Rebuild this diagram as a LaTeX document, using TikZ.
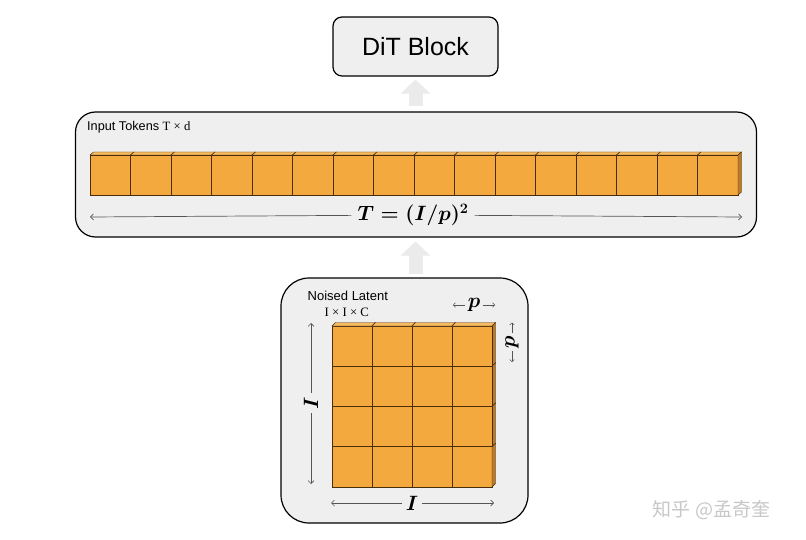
\documentclass[tikz,border=0pt]{standalone}
\usepackage{fontspec}
\setmainfont{Liberation Sans}
\newfontfamily\serifnum{Liberation Serif}
\newfontfamily\cjk{Noto Sans CJK SC}
\usetikzlibrary{arrows.meta}
\definecolor{boxfill}{HTML}{F0EFF0}
\definecolor{fatgray}{HTML}{EBEBEB}
\definecolor{orng}{HTML}{F4A93E}
\definecolor{orngtop}{HTML}{F7B95E}
\definecolor{orngside}{HTML}{B97A2A}
\definecolor{edgec}{HTML}{4A2E0A}
\definecolor{linegray}{HTML}{555555}
\definecolor{wmgray}{HTML}{C8C8C8}
\begin{document}
\begin{tikzpicture}[x=1pt,y=-1pt,
  panel/.style={draw=black, fill=boxfill, line width=1.2pt, inner sep=0pt},
  fatarrow/.style={draw=fatgray, line width=14pt, -{Triangle[length=14pt,width=29pt]}},
  dimline/.style={draw=linegray, line width=0.7pt, -{Straight Barb[length=3pt,width=6pt]}},
  smallarr/.style={draw=linegray, line width=0.5pt, -{Straight Barb[length=2.2pt,width=4.5pt]}},
  mathlbl/.style={font=\boldmath\fontsize{20}{24}\selectfont},
  cellface/.style={fill=orng},
  celltop/.style={fill=orngtop, draw=edgec, line width=0.45pt},
  cellside/.style={fill=orngside, draw=edgec, line width=0.45pt},
  cellline/.style={draw=edgec, line width=0.6pt},
  lbl/.style={inner sep=0pt, anchor=west}]
\useasboundingbox (0,0) rectangle (806,540);
\fill[white] (0,0) rectangle (806,540);

% boxes
\node[panel, rounded corners=9pt, minimum width=165pt, minimum height=59pt,
      font=\fontsize{25}{28}\selectfont] (dit) at (415.5,46.5) {DiT Block};
\node[panel, rounded corners=20pt, minimum width=681pt, minimum height=125pt] (tokens) at (416,174.5) {};
\node[panel, rounded corners=28pt, minimum width=247pt, minimum height=245pt] (latent) at (404.5,400.5) {};

% faint arrows
\draw[fatarrow] ([yshift=5pt]tokens.north -| dit.south) -- ([yshift=-3pt]dit.south);
\draw[fatarrow] ([yshift=3pt]latent.north -| dit.south) -- ([yshift=-4pt]tokens.south -| dit.south);

% token strip
\foreach \i in {0,...,15}{
  \pgfmathsetmacro\xa{90+40.5*\i}
  \pgfmathsetmacro\xb{\xa+40.5}
  \fill[cellface] (\xa,155) rectangle (\xb,195);
  \filldraw[celltop] (\xa,155) -- (\xa+3.5,152) -- (\xb+3.5,152) -- (\xb,155) -- cycle;
  \draw[cellline] (\xa,155) rectangle (\xb,195);
}
\filldraw[cellside] (738,155) -- (741.5,152) -- (741.5,192) -- (738,195) -- cycle;

% latent grid
\foreach \i in {0,...,3}{
  \foreach \j in {0,...,3}{
    \pgfmathsetmacro\xa{332+40*\i}
    \pgfmathsetmacro\xb{\xa+40}
    \pgfmathsetmacro\ya{326+40.25*\j}
    \pgfmathsetmacro\yb{\ya+40.25}
    \fill[cellface] (\xa,\ya) rectangle (\xb,\yb);
    \draw[cellline] (\xa,\ya) rectangle (\xb,\yb);
  }
  \pgfmathsetmacro\xa{332+40*\i}
  \pgfmathsetmacro\xb{\xa+40}
  \filldraw[celltop] (\xa,326) -- (\xa+3.5,322.5) -- (\xb+3.5,322.5) -- (\xb,326) -- cycle;
  \pgfmathsetmacro\ya{326+40.25*\i}
  \pgfmathsetmacro\yb{\ya+40.25}
  \filldraw[cellside] (492,\ya) -- (495.5,\ya-3.5) -- (495.5,\yb-3.5) -- (492,\yb) -- cycle;
}

% labels
\node[lbl, font=\fontsize{12.7}{14}\selectfont] (tokhdr) at (87,127) {Input Tokens {\serifnum T × d}};
\node[lbl, font=\fontsize{13}{15}\selectfont] (lathdr) at (307.5,296) {Noised Latent};
\node[lbl, font=\serifnum\fontsize{12.8}{14}\selectfont] (latdim) at (324.5,312) {I × I × C};

% T = (I/p)^2 dimension line
\coordinate (tl) at (90,217);
\coordinate (tr) at (742,217);
\node[inner sep=6pt, mathlbl] (tlab) at (413,215) {$T=(I/p)^2$};
\draw[dimline] (tlab) -- (tl);
\draw[dimline] (tlab) -- (tr);

% bottom I
\coordinate (bl) at (331,503);
\coordinate (br) at (494,503);
\node[inner sep=4pt, mathlbl] (blab) at (412,503) {$I$};
\draw[dimline] (blab) -- (bl);
\draw[dimline] (blab) -- (br);

% left I
\coordinate (lt) at (311,323);
\coordinate (lb) at (311,484);
\node[inner sep=4pt, rotate=90, mathlbl] (llab) at (311,403) {$I$};
\draw[dimline] (llab) -- (lt);
\draw[dimline] (llab) -- (lb);

% p top
\coordinate (pl) at (453,305);
\coordinate (pr) at (495,305);
\node[inner sep=2.5pt, mathlbl] (plab) at (474,305) {$p$};
\draw[smallarr] (plab) -- (pl);
\draw[smallarr] (plab) -- (pr);

% p right (rotated)
\coordinate (pt) at (512,322.5);
\coordinate (pb) at (512,362);
\node[inner sep=2.5pt, rotate=90, mathlbl] (plab2) at (512,342) {$p$};
\draw[smallarr] (plab2) -- (pt);
\draw[smallarr] (plab2) -- (pb);

% watermark
\node[inner sep=0pt, text=wmgray, font=\cjk\fontsize{19}{22}\selectfont] (wm) at (711.5,510) {知乎 @孟奇奎};
\end{tikzpicture}
\end{document}
